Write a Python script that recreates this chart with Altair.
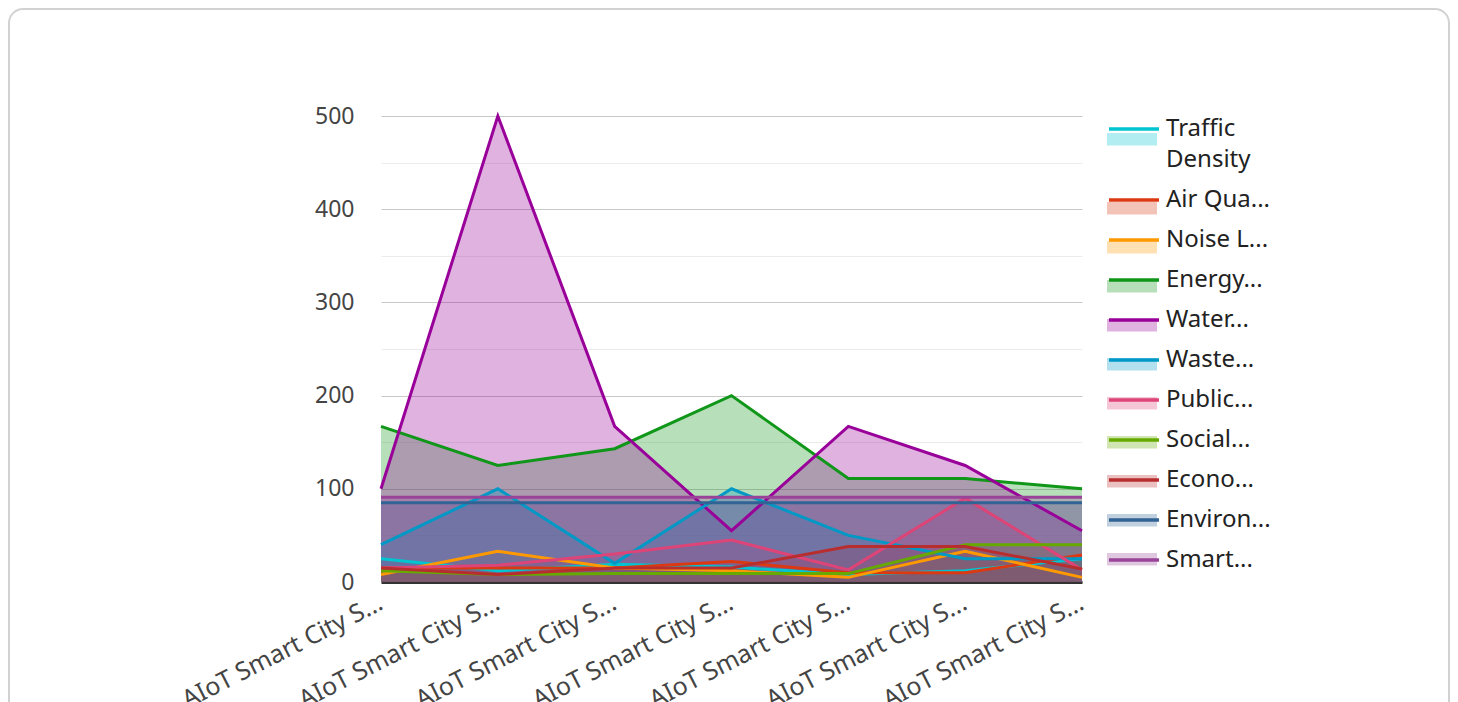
import altair as alt
import pandas as pd

# ---------------- data ----------------
scenarios = [f"AIoT Smart City Scenario {i}" for i in range(1, 8)]

series_names = [
    "Traffic Density", "Air Quality Index", "Noise Level", "Energy Consumption",
    "Water Usage", "Waste Management", "Public Safety", "Social Engagement",
    "Economic Activity", "Environmental Impact", "Smart Infrastructure",
]
legend_labels = [
    ["Traffic", "Density"], "Air Qua...", "Noise L...", "Energy...", "Water...",
    "Waste...", "Public...", "Social...", "Econo...", "Environ...", "Smart...",
]
colors = [
    "#00C5D0", "#DC3912", "#FF9900", "#109618", "#990099", "#0099C6",
    "#DD4477", "#66AA00", "#B82E2E", "#316395", "#994499",
]

traffic = [25, 12, 19, 16, 8, 12, 25]
air = [15, 15, 15, 22, 10, 10, 29]
noise = [8, 33, 15, 12, 5, 33, 5]
energy = [167, 125, 143, 200, 111, 111, 100]
water = [100, 500, 167, 55, 167, 125, 55]
waste = [40, 100, 20, 100, 50, 25, 25]
public = [15, 18, 30, 45, 13, 90, 13]
social = [12, 8, 9, 9, 9, 40, 40]
econo = [15, 8, 15, 15, 38, 38, 14]
environ = [85, 85, 85, 85, 85, 85, 85]
smart = [91, 91, 91, 91, 91, 91, 91]

values = [traffic, air, noise, energy, water, waste, public, social, econo, environ, smart]

rows = []
for name, vals in zip(series_names, values):
    for sc, v in zip(scenarios, vals):
        rows.append({"scenario": sc, "series": name, "series_line": name, "value": v})
df = pd.DataFrame(rows)


def js(v):
    if isinstance(v, list):
        return "[" + ",".join(js(x) for x in v) + "]"
    return "'" + v + "'"


label_expr = "{" + ",".join(f"'{n}':{js(l)}" for n, l in zip(series_names, legend_labels)) + "}[datum.label]"

FONT = "Noto Sans"

x_enc = alt.X(
    "scenario:N",
    sort=scenarios,
    scale=alt.Scale(type="point", padding=0),
    axis=alt.Axis(
        title=None, labelAngle=-27, labelFontSize=25, labelColor="#444444",
        labelExpr="slice(datum.label, 0, 17) + '...'", labelLimit=400,
        ticks=False, domainColor="#333333", domainWidth=3, labelPadding=8,
        labelOffset=-6, grid=False,
    ),
)
y_enc = alt.Y(
    "value:Q",
    stack=None,
    scale=alt.Scale(domain=[0, 500], nice=False),
    axis=alt.Axis(
        title=None, values=list(range(0, 501, 50)),
        labelExpr="datum.value % 100 === 0 ? datum.label : ''",
        gridColor={"condition": {"test": "datum.value % 100 === 0", "value": "#c8c8c8"}, "value": "#ececec"},
        gridWidth=1.2, domain=False, ticks=False, labelPadding=27,
        labelFontSize=23, labelColor="#444444",
    ),
)

legend_common = dict(
    orient="none", legendX=726, title=None,
    labelFontSize=24, labelColor="#222222", labelFont=FONT,
    labelExpr=label_expr, labelLimit=300, labelOffset=5,
    symbolSize=2500, rowPadding=1,
)

frame = alt.Chart(pd.DataFrame({"k": [0]})).mark_rect(
    fill="#ffffff", fillOpacity=0, stroke="#d2d2d2", strokeWidth=2, cornerRadius=14
).encode(
    x=alt.value(-372), x2=alt.value(1068), y=alt.value(-107), y2=alt.value(640)
)

areas = alt.Chart(df).mark_area(fillOpacity=0.3).encode(
    x=x_enc,
    y=y_enc,
    fill=alt.Fill(
        "series:N",
        scale=alt.Scale(domain=series_names, range=colors),
        legend=alt.Legend(
            symbolType="M-1,0H1V0.5H-1Z", symbolOpacity=0.3, symbolStrokeWidth=0,
            symbolStrokeColor="transparent", labelOpacity=0, legendY=-8,
            **legend_common,
        ),
    ),
)

lines = alt.Chart(df).mark_line(strokeWidth=3).encode(
    x=x_enc,
    y=y_enc,
    stroke=alt.Stroke(
        "series_line:N",
        sort=series_names,
        scale=alt.Scale(range=colors),
        legend=alt.Legend(
            symbolType="M-1,0H1", symbolStrokeWidth=3.5, legendY=-14,
            symbolFillColor="transparent", **legend_common
        ),
    ),
)

chart = alt.layer(frame, areas, lines).resolve_scale(fill="independent", stroke="independent").properties(
    width=701,
    height=466,
    autosize=alt.AutoSizeParams(type="none"),
    padding={"left": 373, "top": 108, "right": 368, "bottom": 150},
).configure(
    font=FONT, style={"guide-label": {"lineHeight": 31}}
).configure_view(stroke="transparent")

chart.save("out.html", embed_options={"renderer": "svg", "actions": False})
